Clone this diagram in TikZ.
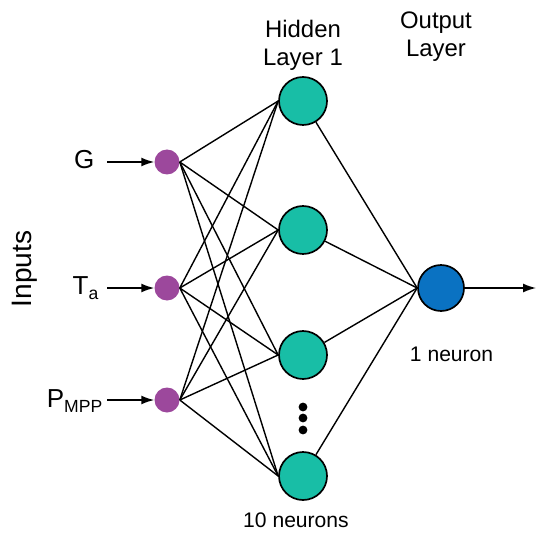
\documentclass[tikz,border=0pt]{standalone}
\usepackage{fontspec}
\setmainfont{Liberation Sans}
\usetikzlibrary{arrows.meta}
\definecolor{inpurple}{RGB}{156,72,156}
\definecolor{hidteal}{RGB}{24,190,166}
\definecolor{outblue}{RGB}{10,114,194}
\tikzset{
  inp/.style={circle,fill=inpurple,minimum size=0.625cm,inner sep=0pt},
  hid/.style={circle,draw=black,line width=1.2pt,fill=hidteal,minimum size=1.2cm,inner sep=0pt},
  outn/.style={circle,draw=black,line width=1.2pt,fill=outblue,minimum size=1.15cm,inner sep=0pt},
  wire/.style={line width=1pt},
  feed/.style={line width=1pt,-{Latex[length=3.2mm,width=2.2mm]}},
  dotn/.style={circle,fill=black,minimum size=0.22cm,inner sep=0pt},
  lbl/.style={anchor=east,inner sep=1pt,font=\fontsize{18.5}{22}\selectfont},
  title/.style={align=center,font=\fontsize{17}{20}\selectfont},
  note/.style={font=\fontsize{15}{18}\selectfont},
}
\newcommand{\subsize}{\fontsize{12.5}{14}\selectfont}
\begin{document}
\begin{tikzpicture}
\useasboundingbox (0,0) rectangle (13.75,13.475);
% inputs
\node[inp] (in1) at (4.175,9.425) {};
\node[inp] (in2) at (4.175,6.275) {};
\node[inp] (in3) at (4.175,3.475) {};
\node[lbl] (g) at (2.4,9.475) {G};
\node[lbl] (ta) at (2.5,6.275) {T\raisebox{-0.35ex}{\subsize a}};
\node[lbl] (pm) at (2.6,3.45) {P\raisebox{-0.35ex}{\subsize MPP}};
\draw[feed] (2.675,9.425) -- (in1.west);
\draw[feed] (2.675,6.275) -- (in2.west);
\draw[feed] (2.675,3.475) -- (in3.west);
\node[rotate=90,font=\fontsize{20}{24}\selectfont] (inputs) at (0.625,6.75) {Inputs};
% hidden layer
\node[hid] (h1) at (7.575,10.95) {};
\node[hid] (h2) at (7.575,7.725) {};
\node[hid] (h3) at (7.575,4.6) {};
\node[hid] (h4) at (7.575,1.575) {};
\node[dotn] (d1) at (7.575,3.3) {};
\node[dotn] (d2) at (7.575,3.025) {};
\node[dotn] (d3) at (7.575,2.725) {};
% output
\node[outn] (o) at (11.025,6.275) {};
\coordinate (oend) at (13.4,6.275);
\draw[feed] (o.east) -- (oend);
% connections
\foreach \i in {1,2,3}
  \foreach \j in {1,2,3,4}
    \draw[wire] (in\i.east) -- (h\j.west);
\foreach \j in {1,2,3,4}
  \draw[wire] (h\j) -- (o.west);
% labels
\node[title] (hl) at (7.575,12.35) {Hidden\\ Layer 1};
\node[title] (ol) at (10.9,12.55) {Output\\ Layer};
\node[note] (one) at (11.29,4.625) {1 neuron};
\node[note] (ten) at (7.4,0.475) {10 neurons};
\end{tikzpicture}
\end{document}
